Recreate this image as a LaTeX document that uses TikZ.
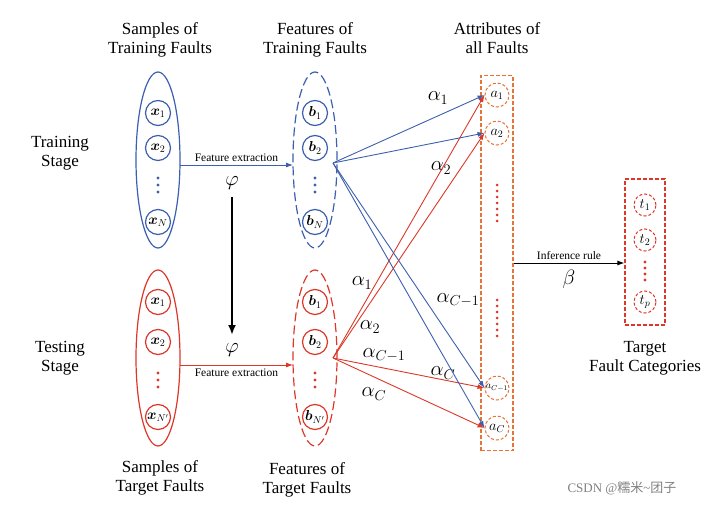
\documentclass[tikz,border=0pt]{standalone}
\usepackage{fontspec}
\usepackage{amsmath,bm}
\setmainfont{Liberation Serif}
\newfontfamily\cjk{Noto Sans CJK SC}
\usetikzlibrary{arrows.meta,shapes.geometric}
\definecolor{bl}{RGB}{60,95,175}
\definecolor{rd}{RGB}{220,55,40}
\definecolor{og}{RGB}{230,115,55}
\begin{document}
\begin{tikzpicture}[x=1pt,y=-1pt,
  lab/.style={align=center,font=\fontsize{17}{19}\selectfont},
  sm/.style={font=\fontsize{11.5}{12}\selectfont},
  ell/.style={draw,ellipse,minimum width=44pt,minimum height=176pt,line width=1.2pt},
  ld/.style={dash pattern=on 9pt off 4pt},
  cir/.style={draw,circle,minimum size=25pt,inner sep=0pt,line width=1.2pt,font=\Large},
  dcir/.style={draw=og,dash pattern=on 3pt off 2pt,circle,minimum size=24pt,inner sep=0pt,line width=1pt,font=\Large},
  arr/.style={-{Latex[length=7pt,width=5pt]},line width=0.9pt},
  al/.style={font=\huge}]
\useasboundingbox (0,0) rectangle (713,506);
\node[lab] (t1) at (160,40) {Samples of\\Training Faults};
\node[lab] (t2) at (315,40) {Features of\\Training Faults};
\node[lab] (t3) at (497,38) {Attributes of\\all Faults};
\node[lab] (s1) at (60,153) {Training\\Stage};
\node[lab] (s2) at (60,358) {Testing\\Stage};
\node[lab] (t4) at (160,478) {Samples of\\Target Faults};
\node[lab] (t5) at (307,480) {Features of\\Target Faults};
\node[lab] (t6) at (645,358) {Target\\Fault Categories};
% ellipses
\node[ell,draw=bl] (E1) at (158,160) {};
\node[ell,draw=rd] (E2) at (158,358) {};
\node[ell,draw=bl,ld] (F1) at (315,160) {};
\node[ell,draw=rd,ld] (F2) at (315,358) {};
\foreach \n/\y/\t in {1/113/{\bm{x}_1},2/148/{\bm{x}_2},3/222/{\bm{x}_N}}{
  \node[cir,draw=bl] (xa\n) at (158,\y) {$\t$};}
\foreach \n/\y/\t in {1/113/{\bm{b}_1},2/148/{\bm{b}_2},3/222/{\bm{b}_N}}{
  \node[cir,draw=bl] (ba\n) at (315,\y) {$\t$};}
\foreach \n/\y/\t in {1/302/{\bm{x}_1},2/342/{\bm{x}_2},3/417/{\bm{x}_{N'}}}{
  \node[cir,draw=rd] (xb\n) at (158,\y) {$\t$};}
\foreach \n/\y/\t in {1/302/{\bm{b}_1},2/342/{\bm{b}_2},3/417/{\bm{b}_{N'}}}{
  \node[cir,draw=rd] (bb\n) at (315,\y) {$\t$};}
\foreach \x in {158,315}{
  \fill[bl] (\x,178) circle (1.6) (\x,185) circle (1.6) (\x,192) circle (1.6);
  \fill[rd] (\x,373) circle (1.6) (\x,380) circle (1.6) (\x,387) circle (1.6);}
% feature extraction
\coordinate (p1) at (180,165); \coordinate (q1) at (293,165);
\draw[arr,bl] (p1) -- (q1) node[midway,above,sm,text=black] {Feature extraction};
\node[al] (phi1) at (232,183) {$\varphi$};
\coordinate (p2) at (180,365); \coordinate (q2) at (293,365);
\draw[arr,rd] (p2) -- (q2) node[midway,below,sm,text=black] {Feature extraction};
\node[al] (phi2) at (232,350) {$\varphi$};
\coordinate (v1) at (232,197); \coordinate (v2) at (232,335);
\draw[-{Latex[length=10pt,width=8pt]},line width=2.5pt] (v1) -- (v2);
% attribute box
\node[draw=og,dash pattern=on 4pt off 2pt,line width=1.2pt,minimum width=32pt,minimum height=375pt] (AB) at (497,263) {};
\node[dcir] (a1) at (497,95) {$a_1$};
\node[dcir] (a2) at (497,133) {$a_2$};
\node[dcir,font=\normalsize] (a3) at (497,388) {$a_{C-1}$};
\node[dcir] (a4) at (497,428) {$a_C$};
\foreach \y in {185,191,197,203,209,215,221}{\fill[rd] (497,\y) circle (1.5);}
\foreach \y in {300,306,312,318,324,330,336}{\fill[rd] (497,\y) circle (1.5);}
\coordinate (o1) at (333,163); \coordinate (o2) at (333,358);
\foreach \a in {a1,a2,a3,a4}{
  \draw[arr,bl] (o1) -- (\a.west);
  \draw[arr,rd] (o2) -- (\a.west);}
\node[al] at (438,98) {$\alpha_1$};
\node[al] at (441,168) {$\alpha_2$};
\node[al] at (458,300) {$\alpha_{C-1}$};
\node[al] at (443,373) {$\alpha_C$};
\node[al] at (362,283) {$\alpha_1$};
\node[al] at (370,327) {$\alpha_2$};
\node[al] at (384,355) {$\alpha_{C-1}$};
\node[al] at (374,394) {$\alpha_C$};
% target box
\node[draw=rd,dash pattern=on 4pt off 2pt,line width=1.2pt,minimum width=40pt,minimum height=146pt] (TB) at (645,252) {};
\node[dcir,draw=rd,minimum size=22pt] (tt1) at (645,205) {$t_1$};
\node[dcir,draw=rd,minimum size=22pt] (tt2) at (645,240) {$t_2$};
\node[dcir,draw=rd,minimum size=22pt] (tt3) at (645,302) {$t_p$};
\foreach \y in {262,268,274,280}{\fill[rd] (645,\y) circle (1.6);}
\draw[arr,black] (AB.east |- 0,263) -- (TB.west |- 0,263)
  node[midway,above,sm] {Inference rule} node[midway,below=3pt,al] {$\beta$};
\node[font=\fontsize{13}{14}\selectfont,text=gray] (wm) at (622,488) {CSDN @{\cjk 糯米}\textasciitilde{\cjk 团子}};
\end{tikzpicture}
\end{document}
